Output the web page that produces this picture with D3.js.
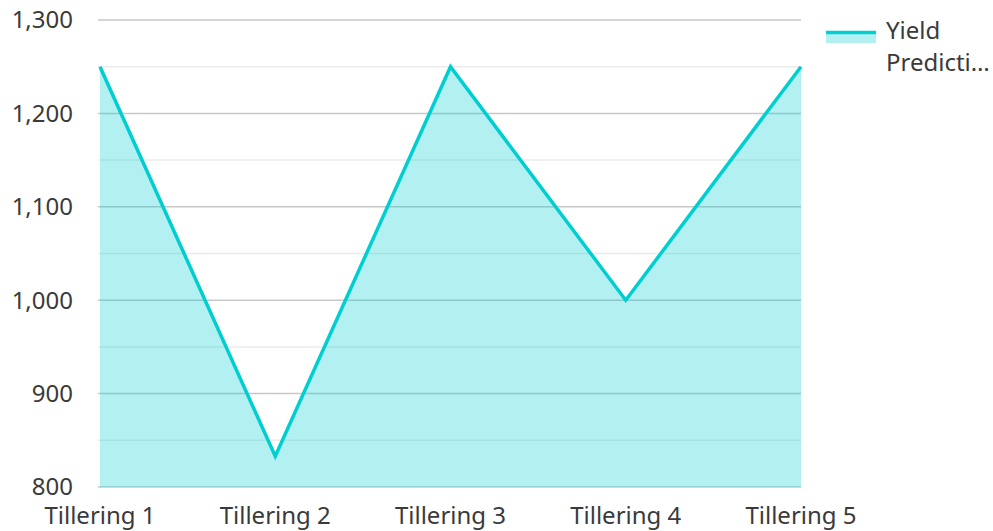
<!DOCTYPE html>
<html>
<head>
<meta charset="utf-8">
<script src="https://cdn.jsdelivr.net/npm/d3@7"></script>
<style>
  body { margin: 0; background: #fff; }
  text { font-family: "Noto Sans", "Open Sans", sans-serif; fill: #3a3a3a; }
</style>
</head>
<body>
<div id="chart"></div>
<script>
// Data
const categories = ['Tillering 1', 'Tillering 2', 'Tillering 3', 'Tillering 4', 'Tillering 5'];
const yieldValues = [1250, 833, 1250, 1000, 1250];
const majorTicks = [800, 900, 1000, 1100, 1200, 1300];
const minorTicks = [850, 950, 1050, 1150, 1250];
const seriesName = ['Yield', 'Predicti…'];

const width = 993;
const height = 531;
const teal = '#00ced1';

const svg = d3.select('#chart').append('svg')
  .attr('width', width)
  .attr('height', height);

const x = d3.scalePoint()
  .domain(categories)
  .range([100, 801]);

const y = d3.scaleLinear()
  .domain([800, 1300])
  .range([487, 20]);

// grid
svg.append('g').selectAll('line.minor')
  .data(minorTicks)
  .enter().append('line')
    .attr('x1', 98).attr('x2', 801)
    .attr('y1', d => y(d)).attr('y2', d => y(d))
    .attr('stroke', '#ebebeb')
    .attr('stroke-width', 1.5);

svg.append('g').selectAll('line.major')
  .data(majorTicks)
  .enter().append('line')
    .attr('x1', 98).attr('x2', 801)
    .attr('y1', d => y(d)).attr('y2', d => y(d))
    .attr('stroke', '#c8c8c8')
    .attr('stroke-width', 1.5);

// y labels
svg.append('g').selectAll('text')
  .data(majorTicks)
  .enter().append('text')
    .attr('x', 73)
    .attr('y', d => y(d))
    .attr('dy', '0.35em')
    .attr('text-anchor', 'end')
    .style('font-size', '24px')
    .text(d3.format(','));

// x labels
svg.append('g').selectAll('text')
  .data(categories)
  .enter().append('text')
    .attr('x', d => x(d))
    .attr('y', 516)
    .attr('dy', '0.35em')
    .attr('text-anchor', 'middle')
    .style('font-size', '24px')
    .text(d => d);

// area + line
const area = d3.area()
  .x((d, i) => x(categories[i]))
  .y0(y(800))
  .y1(d => y(d));

const line = d3.line()
  .x((d, i) => x(categories[i]))
  .y(d => y(d));

svg.append('path')
  .datum(yieldValues)
  .attr('d', area)
  .attr('fill', teal)
  .attr('fill-opacity', 0.3);

svg.append('path')
  .datum(yieldValues)
  .attr('d', line)
  .attr('fill', 'none')
  .attr('stroke', teal)
  .attr('stroke-width', 3.5)
  .attr('stroke-linejoin', 'miter');

// legend
const legend = svg.append('g').attr('transform', 'translate(826,31)');
legend.append('rect')
  .attr('x', 0).attr('y', 0)
  .attr('width', 50).attr('height', 12)
  .attr('fill', teal)
  .attr('fill-opacity', 0.3);
legend.append('line')
  .attr('x1', 0).attr('x2', 50)
  .attr('y1', 1.5).attr('y2', 1.5)
  .attr('stroke', teal)
  .attr('stroke-width', 3.5);
legend.selectAll('text.name')
  .data(seriesName)
  .enter().append('text')
    .attr('x', 60)
    .attr('y', (d, i) => i * 32)
    .attr('dy', '0.35em')
    .style('font-size', '24px')
    .text(d => d);
</script>
</body>
</html>
